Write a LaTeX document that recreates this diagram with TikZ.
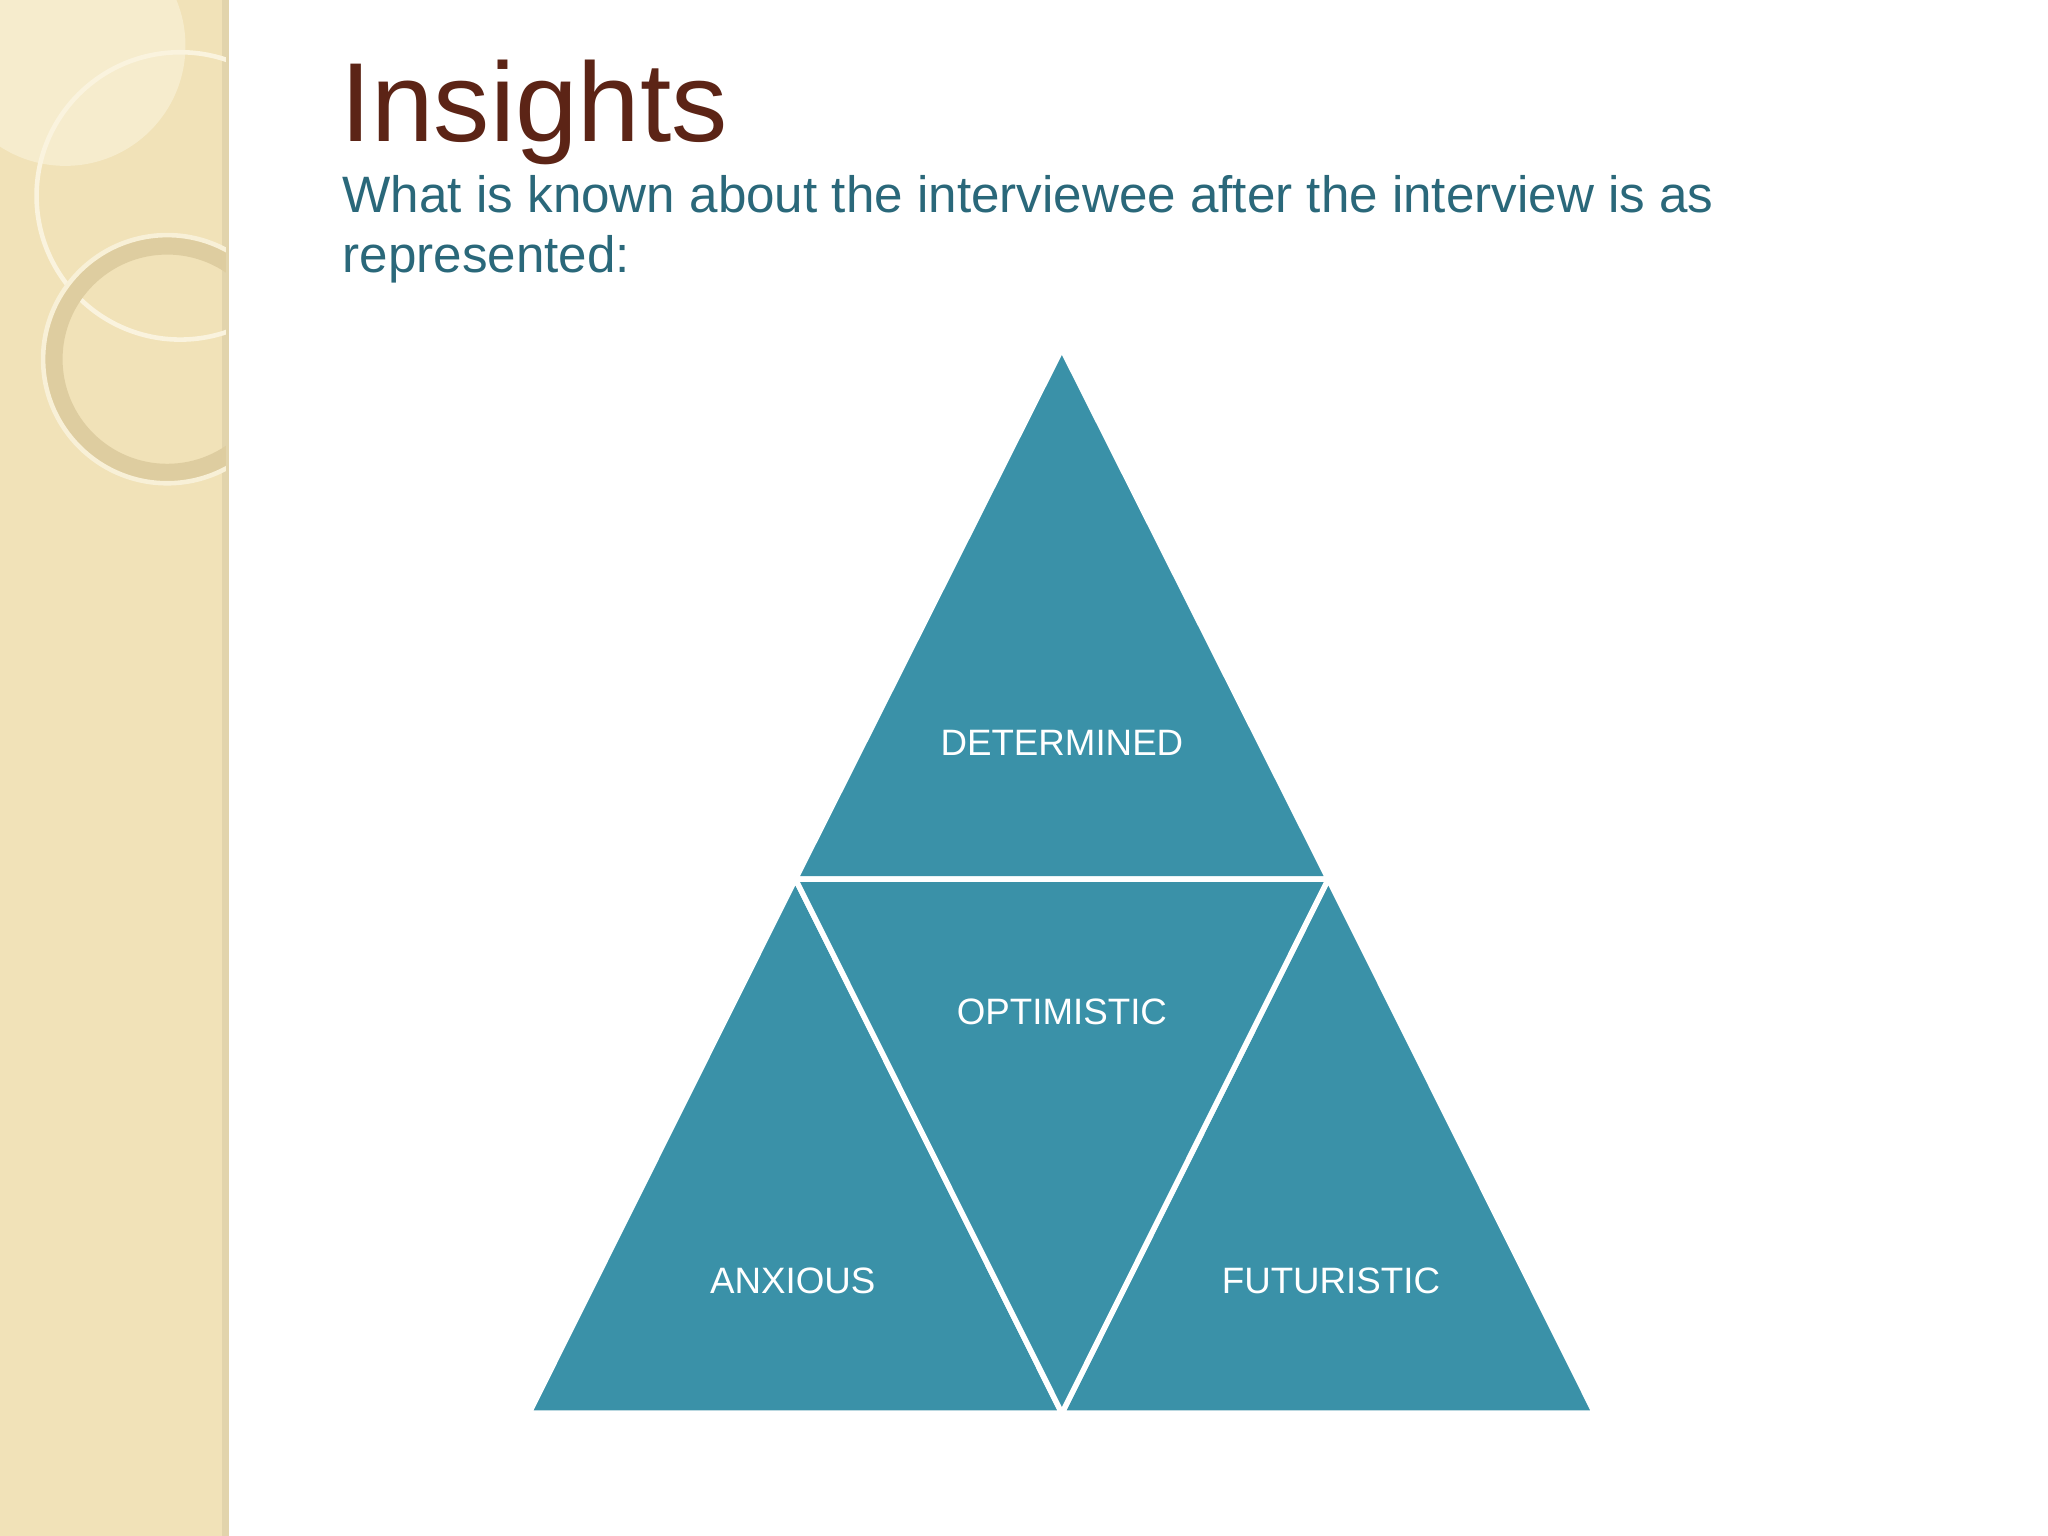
\documentclass[tikz,border=0pt]{standalone}
\usepackage{fontspec}
\setmainfont{Liberation Sans}
\definecolor{teal1}{RGB}{58,145,168}
\definecolor{strip}{RGB}{241,226,184}
\definecolor{stripedge}{RGB}{226,212,172}
\definecolor{c1}{RGB}{246,236,205}
\definecolor{c2}{RGB}{250,243,222}
\definecolor{c3}{RGB}{222,205,160}
\definecolor{c4}{RGB}{248,240,215}
\definecolor{brown1}{RGB}{92,36,22}
\definecolor{sub1}{RGB}{42,104,122}
\begin{document}
\begin{tikzpicture}[x=0.02cm,y=-0.02cm,
  tri/.style={fill=teal1,draw=white,line width=2.4pt,line join=miter},
  lbl/.style={text=white,font=\fontsize{16}{19}\selectfont}]
\useasboundingbox (0,0) rectangle (1568,1176);
\fill[white] (0,0) rectangle (1568,1176);
\fill[strip] (0,0) rectangle (173,1176);
\fill[stripedge] (170,0) rectangle (175,1176);
\begin{scope}
\clip (0,0) rectangle (173,1176);
\fill[c1] (50,35) circle (92);
\draw[c2,line width=2pt] (138,150) circle (110);
\draw[c3,line width=9pt] (128,275) circle (88);
\draw[c4,line width=2pt] (128,275) circle (95);
\end{scope}
\node[anchor=base west,inner sep=0,text=brown1,font=\fontsize{49}{59}\selectfont] (title) at (260,108) {Insights};
\node[anchor=base west,inner sep=0,align=left,text=sub1,font=\fontsize{22.3}{26.5}\selectfont] (sub) at (262,209) {What is known about the interviewee after the interview is as\\represented:};
\coordinate (A) at (813,267);
\coordinate (L) at (609,673);
\coordinate (R) at (1017,673);
\coordinate (BL) at (405,1082);
\coordinate (BM) at (813,1082);
\coordinate (BR) at (1221,1082);
\filldraw[tri] (A) -- (L) -- (R) -- cycle;
\filldraw[tri] (L) -- (BL) -- (BM) -- cycle;
\filldraw[tri] (R) -- (BM) -- (BR) -- cycle;
\filldraw[tri] (L) -- (R) -- (BM) -- cycle;
\node[lbl] (det) at (813,569) {DETERMINED};
\node[lbl] (opt) at (813,775) {OPTIMISTIC};
\node[lbl] (anx) at (607,981) {ANXIOUS};
\node[lbl] (fut) at (1019,981) {FUTURISTIC};
\end{tikzpicture}
\end{document}
